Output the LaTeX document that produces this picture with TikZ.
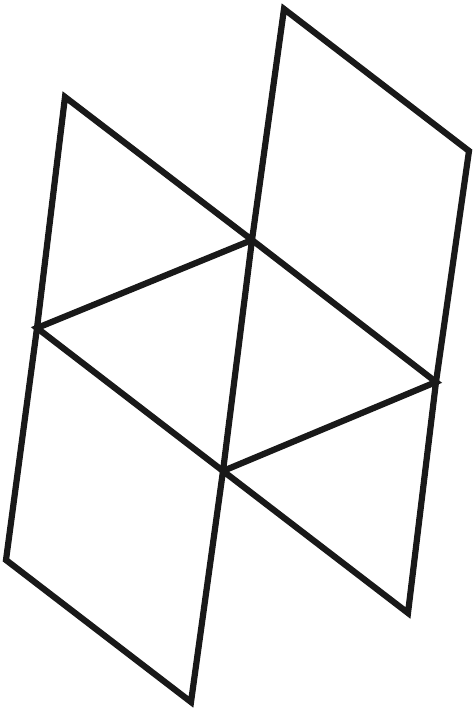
\documentclass[tikz,border=0pt]{standalone}
\tikzset{edge/.style={draw=black!90, line width=6.2pt, line join=miter, miter limit=10}}
\begin{document}
\begin{tikzpicture}[x=1pt,y=-1pt]
\useasboundingbox (0,0) rectangle (474,713);
\coordinate (A) at (65,97);
\coordinate (B) at (284,9);
\coordinate (C) at (469,151);
\coordinate (D) at (252,240);
\coordinate (E) at (37,328);
\coordinate (F) at (436,382);
\coordinate (G) at (223,471);
\coordinate (H) at (6,560);
\coordinate (I) at (191,702);
\coordinate (J) at (408,613);
\draw[edge] (H) -- (E) -- (A) -- (D) -- (B) -- (C) -- (F) -- (J) -- (G) -- (I) -- cycle;
\draw[edge] (E) -- (D) -- (F) -- (G) -- cycle;
\draw[edge] (D) -- (G);
\end{tikzpicture}
\end{document}
